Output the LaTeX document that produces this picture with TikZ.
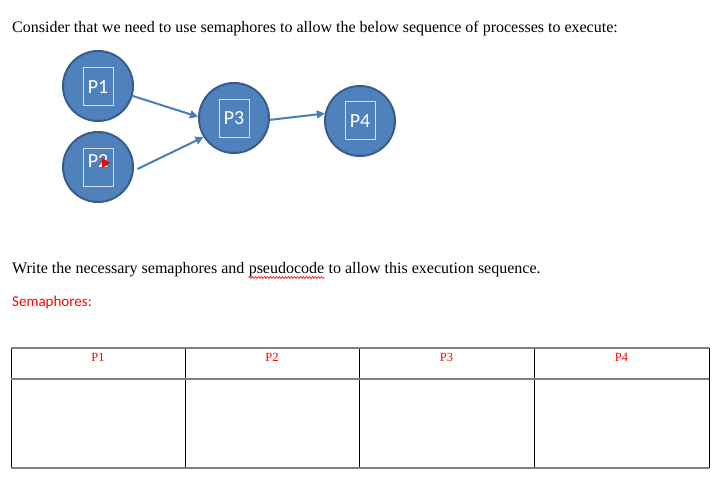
\documentclass[tikz,border=0pt]{standalone}
\usepackage{fontspec}
\setmainfont{Liberation Serif}
\newfontfamily\calib{Carlito}
\usetikzlibrary{arrows.meta,decorations.pathmorphing}
\definecolor{fillblue}{HTML}{4F81BD}
\definecolor{edgeblue}{HTML}{385D8A}
\definecolor{arrblue}{HTML}{4A7EBB}
\definecolor{wred}{HTML}{FF0000}
\definecolor{hgray}{HTML}{808080}
\begin{document}
\begin{tikzpicture}[x=1pt,y=-1pt,
  proc/.style={circle,draw=edgeblue,line width=2pt,fill=fillblue,minimum size=70pt,inner sep=0pt},
  innerbox/.style={draw=white!75!fillblue,line width=0.7pt,minimum width=30pt,minimum height=38pt,inner sep=0pt},
  plabel/.style={text=white,font=\calib\fontsize{20}{20}\selectfont,inner sep=0pt},
  flow/.style={draw=arrblue,line width=2pt,-{Triangle[length=8pt,width=8pt]}},
  body/.style={anchor=base west,inner sep=0pt,font=\fontsize{16}{18}\selectfont},
  hdr/.style={anchor=base,inner sep=0pt,text=wred,font=\fontsize{12.5}{13}\selectfont},
  hline/.style={draw=hgray,line width=1.6pt},
  vline/.style={draw=black,line width=0.9pt}]
\useasboundingbox[fill=white] (0,0) rectangle (719,478);

\node[body] (t1) at (12,33) {Consider that we need to use semaphores to allow the below sequence of processes to execute:};

\node[proc] (P1) at (98,86) {};
\node[proc] (P2) at (98,167) {};
\node[proc] (P3) at (234,118) {};
\node[proc] (P4) at (360,121) {};
\node[innerbox] (b1) at (98,86) {};
\node[innerbox] (b2) at (98,167.5) {};
\node[innerbox] (b3) at (234,118) {};
\node[innerbox] (b4) at (360.5,120.5) {};
\node[plabel] (l1) at (98,87) {P1};
\node[plabel] (l2) at (98,161) {P2};
\node[plabel] (l3) at (234,118) {P3};
\node[plabel] (l4) at (360,121) {P4};
\fill[wred] (102,158) -- (110,163) -- (102,168) -- cycle;

\draw[flow] (P1.-16) -- (P3.178);
\draw[flow,shorten <=4pt] (P2.-6) -- (P3.212);
\draw[flow] (P3.-3) -- (P4.168);

\node[body] (t2a) at (12,273) {Write the necessary semaphores and};
\node[body] (t2b) at ([xshift=4pt]t2a.base east) {pseudocode};
\node[body] (t2c) at ([xshift=4pt]t2b.base east) {to allow this execution sequence.};
\draw[wred,line width=0.6pt,decorate,decoration={snake,amplitude=1pt,segment length=3pt}] ([yshift=-4.5pt]t2b.base west) -- ([yshift=-4.5pt]t2b.base east);

\node[anchor=base west,inner sep=0pt,text=wred,font=\calib\fontsize{15}{16}\selectfont] (sem) at (12,306) {Semaphores:};

\coordinate (tl) at (11,348);
\coordinate (tr) at (709,348);
\coordinate (ml) at (11,379);
\coordinate (mr) at (709,379);
\coordinate (bl) at (11,468);
\coordinate (br) at (709,468);
\draw[vline] (11,348) -- (11,468);
\draw[vline] (185,348) -- (185,468);
\draw[vline] (359.5,348) -- (359.5,468);
\draw[vline] (534,348) -- (534,468);
\draw[vline] (709,348) -- (709,468);
\draw[hline] (tl) -- (tr);
\draw[hline] (ml) -- (mr);
\draw[hline] (bl) -- (br);
\node[hdr] (h1) at (98,361.5) {P1};
\node[hdr] (h2) at (272,361.5) {P2};
\node[hdr] (h3) at (446.5,361.5) {P3};
\node[hdr] (h4) at (621.5,361.5) {P4};
\end{tikzpicture}
\end{document}
